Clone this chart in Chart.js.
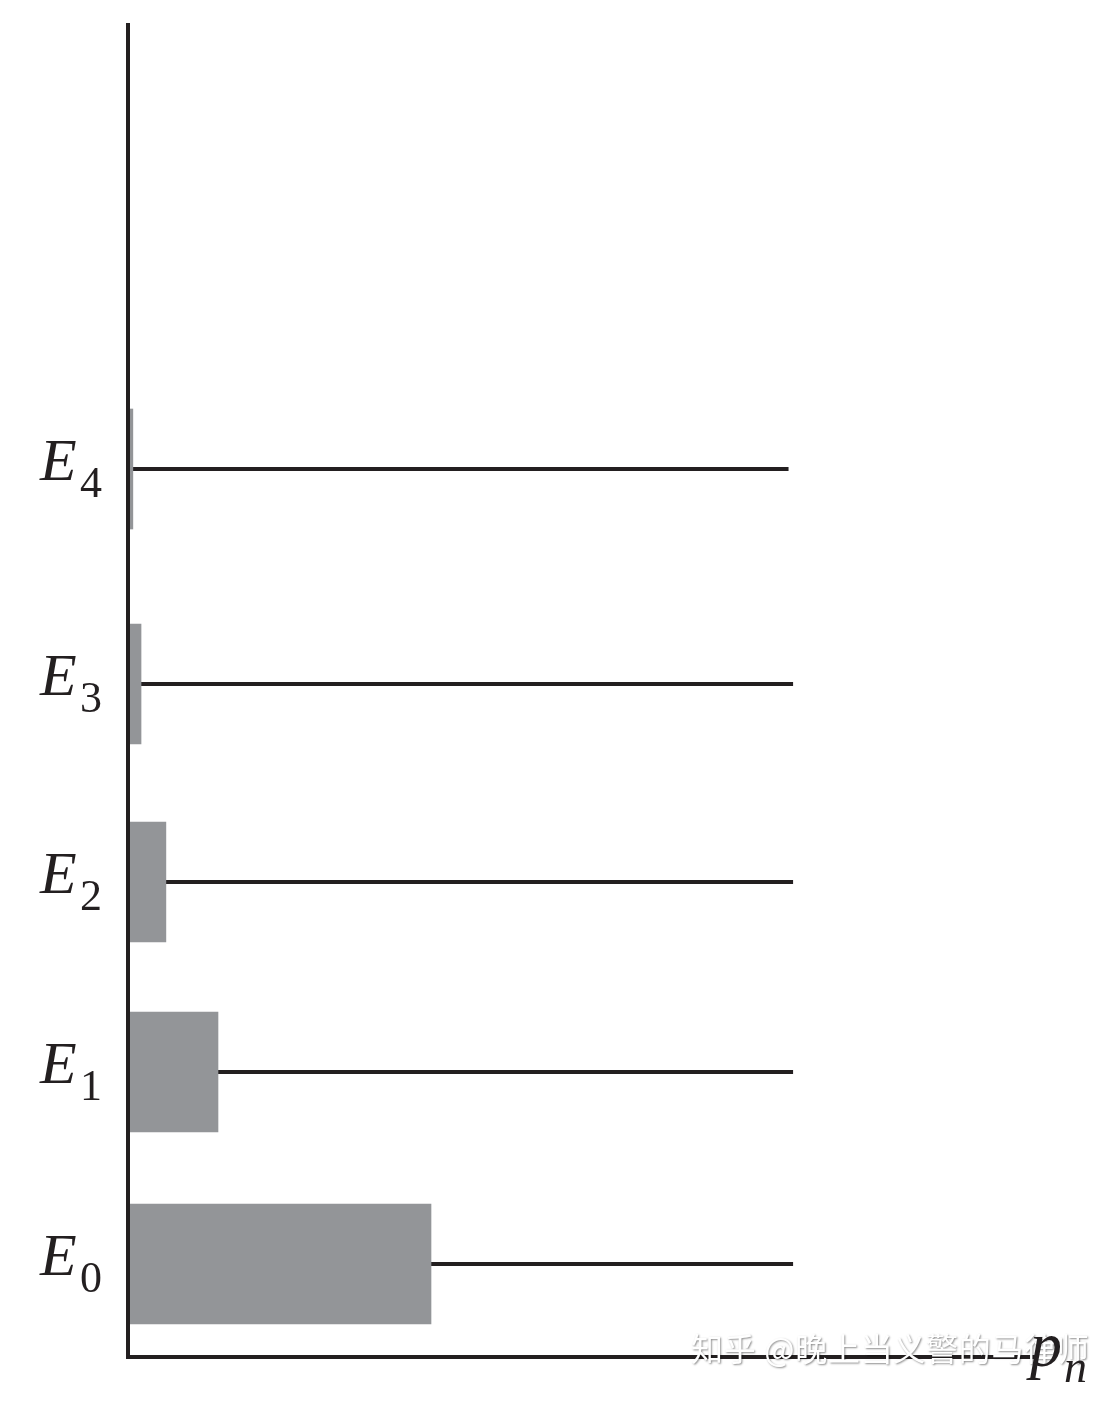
<!DOCTYPE html>
<html>
<head>
<meta charset="utf-8">
<script src="https://cdn.jsdelivr.net/npm/chart.js@4/dist/chart.umd.min.js"></script>
<style>
html,body{margin:0;padding:0;background:#fff;}
canvas{display:block;}
</style>
</head>
<body>
<canvas id="c" width="1120" height="1402"></canvas>
<script>
// Energy levels (arbitrary units)
const levelNames = ['0', '1', '2', '3', '4'];
const levelEnergies = [0.93, 2.85, 4.75, 6.73, 8.88];
// Occupation probabilities p_n (bar lengths)
const occupation = [1.0, 0.297, 0.125, 0.043, 0.016];
// Right end of each level line
const levelLineEnds = [2.195, 2.195, 2.195, 2.195, 2.18];
const xAxisTitle = ['p', 'n'];
const watermark = '知乎 @晚上当义警的马律师';

const barData = levelEnergies.map((e, i) => ({x: occupation[i], y: e}));
const lineSets = levelEnergies.map((e, i) => ({
  type: 'line',
  data: [{x: 0, y: e}, {x: levelLineEnds[i], y: e}],
  borderColor: '#231f20',
  borderWidth: 4,
  pointRadius: 0,
  borderCapStyle: 'butt',
  order: 2
}));

const labelPlugin = {
  id: 'labels',
  afterDraw(chart) {
    const ctx = chart.ctx;
    const ys = chart.scales.y;
    ctx.save();
    ctx.fillStyle = '#231f20';
    ctx.textBaseline = 'alphabetic';
    ctx.textAlign = 'left';
    levelEnergies.forEach((e, i) => {
      const py = ys.getPixelForValue(e);
      ctx.font = 'italic 60px "Liberation Serif"';
      ctx.fillText('E', 40, py + 11);
      ctx.font = '44px "Liberation Serif"';
      ctx.fillText(levelNames[i], 80, py + 28);
    });
    // watermark
    ctx.save();
    ctx.font = '32px "Noto Sans CJK SC"';
    ctx.letterSpacing = '0.7px';
    ctx.shadowColor = 'rgba(0,0,0,0.45)';
    ctx.shadowOffsetX = 1;
    ctx.shadowOffsetY = 1;
    ctx.shadowBlur = 2;
    ctx.fillStyle = '#ffffff';
    ctx.fillText(watermark, 691, 1361);
    ctx.restore();
    // axis title p_n
    ctx.fillStyle = '#231f20';
    ctx.font = 'italic 64px "Liberation Serif"';
    ctx.fillText(xAxisTitle[0], 1030, 1366);
    ctx.font = 'italic 46px "Liberation Serif"';
    ctx.fillText(xAxisTitle[1], 1064, 1382);
    ctx.restore();
  }
};

new Chart(document.getElementById('c'), {
  type: 'bar',
  data: {
    datasets: [
      {
        type: 'bar',
        indexAxis: 'y',
        data: barData,
        backgroundColor: '#939598',
        borderWidth: 0,
        barThickness: 120,
        order: 0
      },
      ...lineSets
    ]
  },
  options: {
    responsive: false,
    animation: false,
    layout: {padding: {left: 128, top: 25, right: 83, bottom: 45}},
    plugins: {legend: {display: false}, tooltip: {enabled: false}},
    scales: {
      x: {
        type: 'linear', min: 0, max: 3, offset: false,
        grid: {display: false, drawTicks: false, offset: false},
        ticks: {display: false},
        border: {display: true, color: '#231f20', width: 4, z: 1}
      },
      y: {
        type: 'linear', min: 0, max: 13.32, offset: false,
        grid: {display: false, drawTicks: false, offset: false},
        ticks: {display: false},
        border: {display: true, color: '#231f20', width: 4, z: 1}
      }
    }
  },
  plugins: [labelPlugin]
});
</script>
</body>
</html>
